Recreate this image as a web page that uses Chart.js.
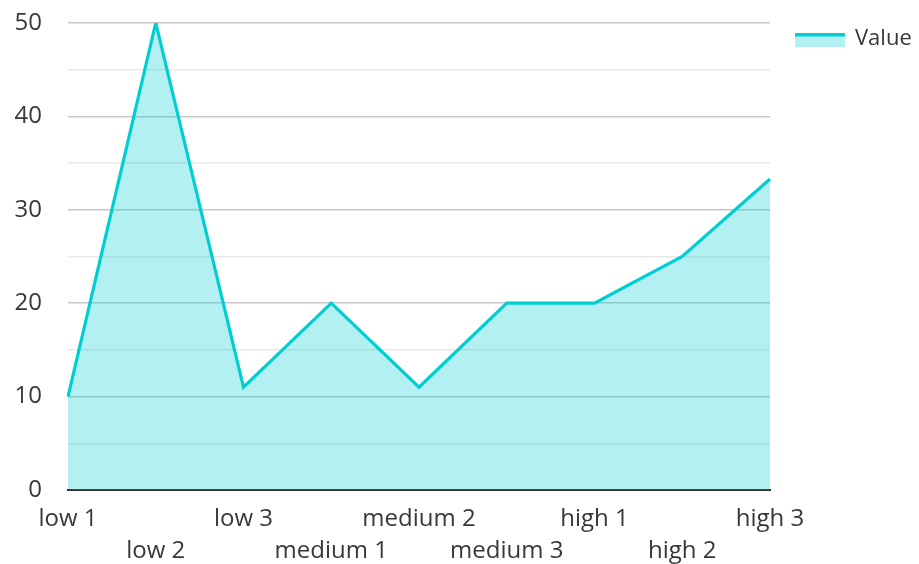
<!DOCTYPE html>
<html>
<head>
<meta charset="utf-8">
<script src="https://cdn.jsdelivr.net/npm/chart.js@4/dist/chart.umd.min.js"></script>
<style>
  html, body { margin: 0; padding: 0; background: #fff; }
  #wrap { width: 919px; height: 564px; }
</style>
</head>
<body>
<div id="wrap"><canvas id="c" width="919" height="564"></canvas></div>
<script>
const categories = ['low 1', 'low 2', 'low 3', 'medium 1', 'medium 2', 'medium 3', 'high 1', 'high 2', 'high 3'];
const values = [10, 50, 11, 20, 11, 20, 20, 25, 33.3];
const seriesName = 'Value';
const yTicks = [0, 10, 20, 30, 40, 50];

const lineColor = '#00CED1';
const fillColor = 'rgba(0, 206, 209, 0.3)';
const textColor = '#383838';
const fontFamily = '"Open Sans", "Noto Sans", sans-serif';

// Legend entry drawn to the right of the plot: swatch with a line on top, then the label
const sideLegend = {
  id: 'sideLegend',
  afterDraw(chart) {
    const ctx = chart.ctx;
    const x = chart.chartArea.right + 25;
    const y = 33;
    ctx.save();
    ctx.fillStyle = fillColor;
    ctx.fillRect(x, y, 50, 14);
    ctx.fillStyle = lineColor;
    ctx.fillRect(x, y, 50, 3.5);
    ctx.fillStyle = textColor;
    ctx.font = '22px ' + fontFamily;
    ctx.textBaseline = 'middle';
    ctx.textAlign = 'left';
    ctx.fillText(seriesName, x + 60, y + 6);
    ctx.restore();
  }
};

new Chart(document.getElementById('c'), {
  type: 'line',
  data: {
    labels: categories,
    datasets: [{
      label: seriesName,
      data: values,
      borderColor: lineColor,
      backgroundColor: fillColor,
      borderWidth: 3.2,
      fill: 'origin',
      tension: 0,
      pointRadius: 0,
      pointHoverRadius: 0
    }]
  },
  options: {
    responsive: false,
    animation: false,
    devicePixelRatio: 1,
    layout: { padding: { top: 23, right: 149, left: 0, bottom: 0 } },
    plugins: {
      legend: { display: false },
      tooltip: { enabled: false }
    },
    scales: {
      x: {
        offset: false,
        grid: { display: false, drawTicks: false },
        border: { display: true, color: '#2b2b2b', width: 2 },
        ticks: {
          autoSkip: false,
          maxRotation: 0,
          color: textColor,
          font: { family: fontFamily, size: 24, lineHeight: 1.33 },
          padding: 13,
          callback(value, index) {
            const lbl = categories[index];
            return index % 2 === 0 ? lbl : ['', lbl];
          }
        },
        afterFit(scale) { scale.height = 74; }
      },
      y: {
        min: 0,
        max: 50,
        grid: {
          drawTicks: false,
          lineWidth: 1.5,
          color(ctx) {
            return yTicks.includes(ctx.tick.value) ? '#c8c8c8' : '#e8e8e8';
          }
        },
        border: { display: false },
        ticks: {
          stepSize: 5,
          color: textColor,
          padding: 26,
          font: { family: fontFamily, size: 24 },
          callback(value) {
            return yTicks.includes(value) ? String(value) : '';
          }
        },
        afterFit(scale) {
          scale.width = 68;
          scale.paddingTop = 0;
          scale.paddingBottom = 0;
        }
      }
    }
  },
  plugins: [sideLegend]
});
</script>
</body>
</html>
